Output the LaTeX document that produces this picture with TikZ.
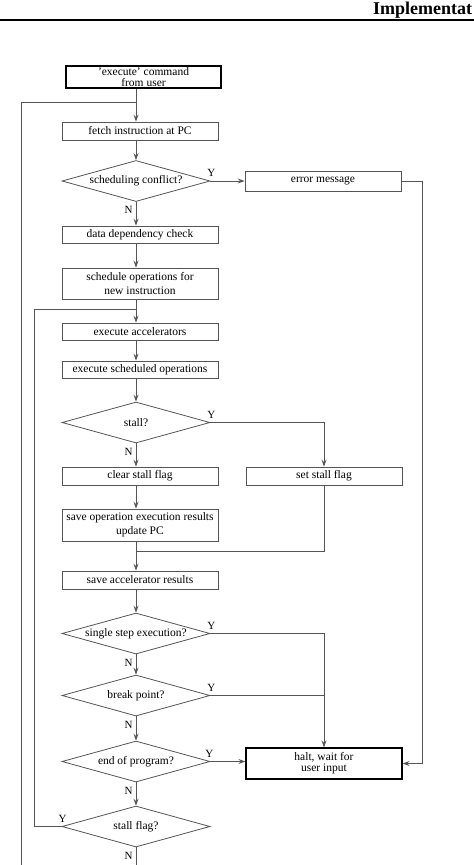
\documentclass[tikz,border=0pt]{standalone}
\usepackage{fontspec}
\setmainfont{Liberation Serif}
\usetikzlibrary{shapes.geometric,arrows.meta,calc}
\definecolor{lc}{HTML}{555555}
\begin{document}
\begin{tikzpicture}[x=1pt,y=-1pt,
  line/.style={draw=lc, line width=0.8pt},
  arr/.style={line, -{Stealth[length=7pt,width=5pt,inset=2.5pt]}},
  box/.style={draw=lc, line width=0.8pt, rectangle, minimum width=156pt, inner sep=0pt, align=center, font=\fontsize{11.5}{14}\selectfont},
  tbox/.style={box, draw=black, line width=1.3pt, font=\fontsize{11.5}{11}\selectfont},
  dia/.style={draw=lc, line width=0.8pt, diamond, aspect=3.6, minimum width=148pt, minimum height=41pt, inner sep=0pt, font=\fontsize{11.5}{14}\selectfont},
  lab/.style={font=\fontsize{11}{13}\selectfont, inner sep=0pt}
]
\useasboundingbox (0,0) rectangle (474,865);
\begin{scope}
\clip (0,0) rectangle (474,865);
\node[anchor=base west, font=\bfseries\fontsize{18}{20}\selectfont, inner sep=0pt] (hdr) at (373,14) {Implementat};
\end{scope}
\coordinate (rl) at (0,19.5);
\coordinate (rr) at (474,19.5);
\draw[line width=2pt] (rl) -- (rr);

\node[tbox, minimum width=155pt, minimum height=22pt] (start) at (143.5,77) {'execute' command\\from user};
\node[box, minimum height=18pt] (fetch) at (140,131) {fetch instruction at PC};
\node[dia] (dsc) at (136,181) {scheduling conflict?};
\node[box, minimum height=20pt] (err) at (323,181) {error message};
\node[box, minimum height=17pt] (ddc) at (140,234.5) {data dependency check};
\node[box, minimum height=31pt] (sched) at (140,283.5) {schedule operations for\\new instruction};
\node[box, minimum height=17pt] (exacc) at (140,331.5) {execute accelerators};
\node[box, minimum height=17pt] (exsch) at (140,369.5) {execute scheduled operations};
\node[dia] (st) at (136,422.5) {stall?};
\node[box, minimum height=18pt] (clr) at (140,476) {clear stall flag};
\node[box, minimum height=18pt] (set) at (324,476) {set stall flag};
\node[box, minimum height=32pt] (sav) at (140,525) {save operation execution results\\update PC};
\node[box, minimum height=18pt] (acc) at (140,580) {save accelerator results};
\node[dia] (sse) at (136,633.5) {single step execution?};
\node[dia] (bp) at (136,695.5) {break point?};
\node[dia] (eop) at (136,761.5) {end of program?};
\node[tbox, minimum height=31pt] (halt) at (324,763.5) {halt, wait for\\user input};
\node[dia] (sf) at (136,826.5) {stall flag?};

\coordinate (ob) at (21,865);
\coordinate (ot) at (21,102);
\coordinate (it) at (34,309);
\coordinate (m) at (136,551);

% main column
\draw[arr] (start.south -| dsc) -- (fetch.north -| dsc);
\draw[line] (ob) -- (ot) -- (ot -| dsc);
\draw[arr] (fetch.south -| dsc) -- (dsc.north);
\draw[arr] (dsc.south) -- (ddc.north -| dsc) node[lab, pos=0, anchor=east, xshift=-3pt, yshift=-8pt] {N};
\draw[arr] (ddc.south -| dsc) -- (sched.north -| dsc);
\draw[arr] (sched.south -| dsc) -- (exacc.north -| dsc);
\draw[arr] (exacc.south -| dsc) -- (exsch.north -| dsc);
\draw[arr] (exsch.south -| dsc) -- (st.north);
\draw[arr] (st.south) -- (clr.north -| dsc) node[lab, pos=0, anchor=east, xshift=-3pt, yshift=-8pt] {N};
\draw[arr] (clr.south -| dsc) -- (sav.north -| dsc);
\draw[arr] (sav.south -| dsc) -- (acc.north -| dsc);
\draw[arr] (acc.south -| dsc) -- (sse.north);
\draw[arr] (sse.south) -- (bp.north) node[lab, pos=0, anchor=east, xshift=-3pt, yshift=-8pt] {N};
\draw[arr] (bp.south) -- (eop.north) node[lab, pos=0, anchor=east, xshift=-3pt, yshift=-8pt] {N};
\draw[arr] (eop.south) -- (sf.north) node[lab, pos=0, anchor=east, xshift=-3pt, yshift=-8pt] {N};
\draw[line] (sf.south) -- (sf.south |- ob) node[lab, pos=0, anchor=east, xshift=-3pt, yshift=-8pt] {N};

% right side
\draw[arr] (dsc.east) -- (err.west) node[lab, pos=0, anchor=south, xshift=1pt, yshift=4pt] {Y};
\draw[arr] (err.east) -- ++(21,0) |- (halt.east);
\draw[arr] (st.east) -| (set.north) node[lab, pos=0, anchor=south, xshift=1pt, yshift=4pt] {Y};
\draw[line] (set.south) |- (m);
\draw[arr] (sse.east) -| (halt.north) node[lab, pos=0, anchor=south, xshift=1pt, yshift=4pt] {Y};
\draw[line] (bp.east) -- (bp.east -| halt.north) node[lab, pos=0, anchor=south, xshift=1pt, yshift=4pt] {Y};
\draw[arr] (eop.east) -- (eop.east -| halt.west) node[lab, pos=0, anchor=south, xshift=-1pt, yshift=4pt] {Y};

% inner loop
\draw[line] (sf.west) node[lab, anchor=south, xshift=1pt, yshift=4pt] {Y} -| (it) -- (it -| dsc);
\end{tikzpicture}
\end{document}
